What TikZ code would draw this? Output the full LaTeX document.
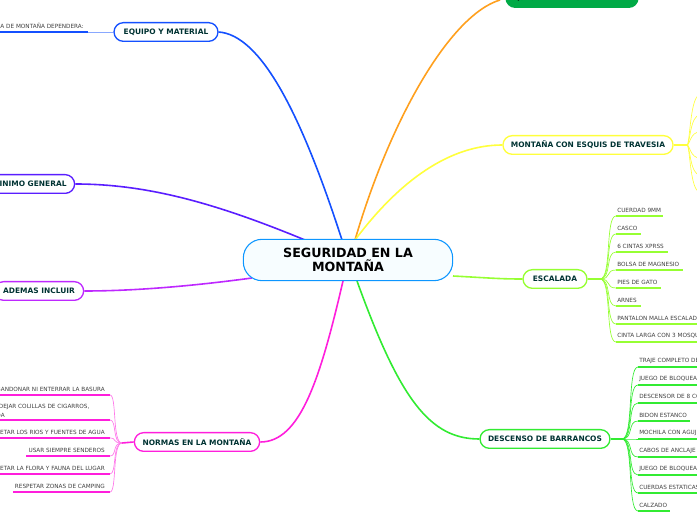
\documentclass[tikz,border=0pt]{standalone}
\usepackage{fontspec}
\setmainfont{DejaVu Sans}
\begin{document}
\begin{tikzpicture}[x=0.75pt,y=-0.75pt,
  br/.style={draw=#1,line width=1pt,rounded corners=7pt,fill=white,font=\bfseries\fontsize{5.6}{6}\selectfont,text=teal!40!black,inner xsep=6pt,minimum height=14pt},
  lf/.style={font=\fontsize{4.3}{5.5}\selectfont,text=black!75,inner sep=0pt},
  cn/.style={line width=#1}]
\definecolor{cblue}{RGB}{20,80,255}
\definecolor{cviol}{RGB}{90,30,255}
\definecolor{cpur}{RGB}{190,40,255}
\definecolor{cmag}{RGB}{255,30,220}
\definecolor{cor}{RGB}{255,160,30}
\definecolor{cyel}{RGB}{255,255,60}
\definecolor{clg}{RGB}{150,255,50}
\definecolor{cgr}{RGB}{50,235,50}
\definecolor{cgreen}{RGB}{0,170,70}
\useasboundingbox (0,0) rectangle (697,520);
\clip (0,0) rectangle (697,520);
% connectors from centre
\coordinate (c1) at (342,240); \coordinate (c2) at (305,240); \coordinate (c3) at (252,278);
\coordinate (c4) at (343,281); \coordinate (c5) at (355,240); \coordinate (c6) at (357,281);
\coordinate (c7) at (453,276);
% nodes
\node[br=cblue,minimum width=78pt] (eq) at (166,32) {EQUIPO Y MATERIAL};
\node[br=cviol,minimum width=80pt] (mg) at (12,184) {EQUIPO MINIMO GENERAL};
\node[br=cpur,minimum width=67pt] (ai) at (39,291) {ADEMAS INCLUIR};
\node[br=cmag,minimum width=94pt] (nm) at (197,442) {NORMAS EN LA MONTAÑA};
\node[br=cgreen,fill=cgreen,text=black,font=\bfseries\fontsize{4}{5}\selectfont,inner xsep=3pt,minimum width=99pt] (gn) at (572,-2) {EQUIPO PARA ALTA MONTAÑA INVERNAL};
\node[br=cyel,minimum width=127pt] (ms) at (588,145) {MONTAÑA CON ESQUIS DE TRAVESIA};
\node[br=clg,minimum width=48pt] (es) at (555,279) {ESCALADA};
\node[br=cgr,minimum width=97pt] (db) at (545,439) {DESCENSO DE BARRANCOS};
\draw[cblue,line width=1.2pt] (c1) .. controls (300,110) and (260,35) .. (eq.east);
\draw[cviol,line width=1.2pt] (c2) .. controls (220,205) and (150,184) .. (mg.east);
\draw[cpur,line width=1.2pt] (c3) .. controls (200,285) and (140,291) .. (ai.east);
\draw[cmag,line width=1.2pt] (c4) .. controls (320,380) and (300,442) .. (nm.east);
\draw[cor,line width=1.2pt] (c5) .. controls (390,120) and (450,15) .. (500,0);
\draw[cyel,line width=1.2pt] (c5) .. controls (400,180) and (450,145) .. (ms.west);
\draw[clg,line width=1.2pt] (c7) .. controls (490,278) and (500,279) .. (es.west);
\draw[cgr,line width=1.2pt] (c6) .. controls (400,400) and (430,439) .. (db.west);
\node[draw=cblue!60!cyan,line width=0.8pt,fill=cyan!3,rounded corners=14pt,minimum width=157pt,minimum height=31pt,align=center,font=\bfseries\fontsize{9.5}{10.5}\selectfont] (ctr) at (348,260) {SEGURIDAD EN LA\\MONTAÑA};
% equipo child
\draw[cblue,line width=1.2pt] (0,32) -- (88,32);
\draw[cblue!50,line width=0.6pt] (88,32) -- (eq.west);
\node[lf,anchor=south east] (eqt) at (84,29.5) {EL EQUIPO PARA UNA SALIDA DE MONTAÑA DEPENDERA:};
% montaña esquis children
\coordinate (jy) at (687,145);
\draw[cyel,line width=1pt] (ms.east) -- (jy);
\foreach \y in {95,115,132,158,175,192}
  \draw[cyel,line width=0.5pt] (jy) .. controls (690,145) and (690,\y) .. (700,\y);
% escalada children
\coordinate (je) at (600,279);
\draw[clg,line width=1.2pt] (es.east) -- (je);
\foreach \y/\e/\t in {210/663/CUERDAD 9MM,228/641/CASCO,246/668/6 CINTAS XPRSS,264/683/BOLSA DE MAGNESIO,282/661/PIES DE GATO,300/641/ARNES,318/700/PANTALON MALLA ESCALADA,336/700/CINTA LARGA CON 3 MOSQUETONES}{
  \draw[clg,line width=0.5pt] (je) .. controls (612,279) and (605,\y+6) .. (616,\y+6);
  \draw[clg,line width=1.2pt] (616,\y+6) -- (\e,\y+6);
  \node[lf,anchor=west] at (617,\y) {\t};
}
% descenso children
\coordinate (jd) at (622,439);
\draw[cgr,line width=1.2pt] (db.east) -- (jd);
\foreach \y/\e/\t in {361/700/TRAJE COMPLETO DE NEOPRENO,379/700/JUEGO DE BLOQUEADORES,397/700/DESCENSOR DE 8 CON OREJAS,415/690/BIDON ESTANCO,433/700/MOCHILA CON AGUJEROS,451/700/CABOS DE ANCLAJE,469/700/JUEGO DE BLOQUEADORES,487/700/CUERDAS ESTATICAS,505/670/CALZADO}{
  \draw[cgr,line width=0.5pt] (jd) .. controls (634,439) and (627,\y+6) .. (638,\y+6);
  \draw[cgr,line width=1.2pt] (638,\y+6) -- (\e,\y+6);
  \node[lf,anchor=west] at (639,\y) {\t};
}
% normas children
\coordinate (jn) at (122,443);
\draw[cmag,line width=1.2pt] (nm.west) -- (jn);
\foreach \y/\s/\t in {389/0/NO ABANDONAR NI ENTERRAR LA BASURA,432/0/RESPETAR LOS RIOS Y FUENTES DE AGUA,450/26/USAR SIEMPRE SENDEROS,468/0/RESPETAR LA FLORA Y FAUNA DEL LUGAR,486/13/RESPETAR ZONAS DE CAMPING}{
  \draw[cmag!60,line width=0.5pt] (jn) .. controls (112,443) and (117,\y+6) .. (110,\y+6);
  \draw[cmag,line width=1.2pt] (\s,\y+6) -- (110,\y+6);
  \node[lf,anchor=east] at (105,\y) {\t};
}
\draw[cmag!60,line width=0.5pt] (jn) .. controls (112,443) and (117,420) .. (110,420);
\draw[cmag,line width=1.2pt] (0,420) -- (110,420);
\node[lf,anchor=north west,align=left,font=\fontsize{4.3}{7}\selectfont] at (-12,404) {NO DEJAR COLILLAS DE CIGARROS,\\NADA};
\end{tikzpicture}
\end{document}
